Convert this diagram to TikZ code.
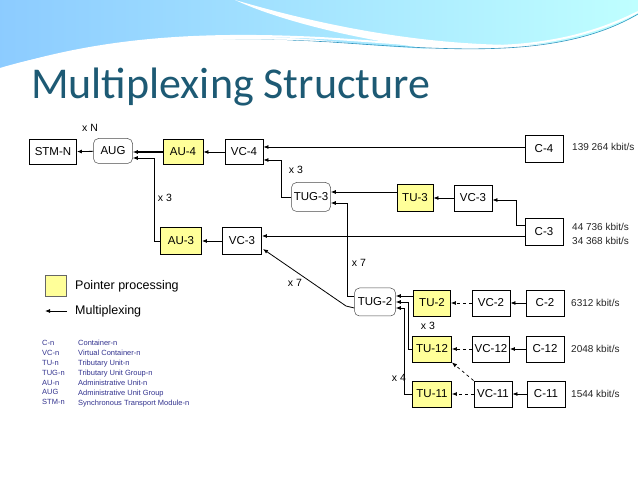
\documentclass[tikz,border=0pt]{standalone}
\usepackage{fontspec}
\setmainfont{Liberation Sans}
\newfontfamily\titlefont{Carlito}
\usetikzlibrary{arrows.meta}
\definecolor{ppy}{HTML}{FFFF99}
\definecolor{ttl}{HTML}{1D5A74}
\definecolor{abb}{HTML}{33338F}
\begin{document}
\begin{tikzpicture}[x=1pt,y=-1pt,
 box/.style={draw,line width=0.9pt,minimum height=25pt,inner sep=1pt,font=\fontsize{11.5}{11.5}\selectfont},
 rbox/.style={box,rounded corners=5pt,line width=0.5pt,draw=black!70},
 ybox/.style={box,fill=ppy},
 arr/.style={line width=0.8pt,-{Latex[length=5pt,width=4pt]}},
 darr/.style={arr,dashed,line width=0.7pt},
 lbl/.style={font=\fontsize{10.5}{10.5}\selectfont,inner sep=0pt},
 rate/.style={font=\fontsize{10}{10}\selectfont,inner sep=0pt,anchor=west,text=black!85}]
\useasboundingbox (0,0) rectangle (638,478);
\fill[white] (0,0) rectangle (638,478);
% header waves
\shade[left color=cyan!55!blue!45,right color=cyan!25] (0,0) -- (638,0) -- (638,22) .. controls (560,60) and (430,52) .. (320,40) .. controls (200,30) and (80,40) .. (0,72) -- cycle;
\fill[white] (235,0) .. controls (320,25) and (420,45) .. (520,45) .. controls (570,45) and (610,30) .. (638,15) -- (638,25) .. controls (600,45) and (560,55) .. (500,55) .. controls (420,52) and (300,30) .. (235,0);
\draw[white,line width=2pt] (0,70) .. controls (100,38) and (200,32) .. (320,38) .. controls (440,45) and (540,62) .. (638,12);
\draw[cyan!50!teal,line width=0.6pt] (0,72) .. controls (100,42) and (220,36) .. (330,42) .. controls (450,50) and (560,60) .. (638,14);
\fill[white] (0,68) .. controls (80,44) and (200,34) .. (320,42) .. controls (450,52) and (560,62) .. (638,20) -- (638,110) -- (0,110) -- cycle;
\node[anchor=base west,inner sep=0pt,text=ttl,font=\titlefont\fontsize{44}{44}\selectfont] (title) at (31,99) {Multiplexing Structure};
% nodes
\node[box,minimum width=47pt] (stm) at (53,152) {STM-N};
\node[rbox,minimum width=39pt] (aug) at (113,151) {AUG};
\node[ybox,minimum width=40pt] (au4) at (183,152) {AU-4};
\node[box,minimum width=38pt] (vc4) at (244,152) {VC-4};
\node[box,minimum width=38pt,minimum height=27pt] (c4) at (544,149) {C-4};
\node[rbox,minimum width=39pt,minimum height=29pt] (tug3) at (311,197) {TUG-3};
\node[ybox,minimum width=36pt,minimum height=27pt] (tu3) at (415,198) {TU-3};
\node[box,minimum width=38pt,minimum height=26pt] (vc3a) at (473,198) {VC-3};
\node[box,minimum width=38pt,minimum height=27pt] (c3) at (544,232) {C-3};
\node[ybox,minimum width=41pt,minimum height=27pt] (au3) at (181,241) {AU-3};
\node[box,minimum width=39pt,minimum height=27pt] (vc3b) at (242,241) {VC-3};
\node[rbox,minimum width=41pt,minimum height=28pt] (tug2) at (375,302) {TUG-2};
\node[ybox,minimum width=37pt,minimum height=26pt] (tu2) at (432,303) {TU-2};
\node[box,minimum width=38pt,minimum height=26pt] (vc2) at (491,303) {VC-2};
\node[box,minimum width=38pt,minimum height=26pt] (c2) at (545,303) {C-2};
\node[ybox,minimum width=39pt,minimum height=26pt] (tu12) at (432,349) {TU-12};
\node[box,minimum width=37pt,minimum height=26pt] (vc12) at (491,349) {VC-12};
\node[box,minimum width=38pt,minimum height=26pt] (c12) at (545,349) {C-12};
\node[ybox,minimum width=39pt,minimum height=26pt] (tu11) at (432,394) {TU-11};
\node[box,minimum width=38pt,minimum height=26pt] (vc11) at (493,394) {VC-11};
\node[box,minimum width=38pt,minimum height=26pt] (c11) at (546,394) {C-11};
% rates
\node[rate] (r4) at (572,147) {139 264 kbit/s};
\node[rate] (r3a) at (572,227) {44 736 kbit/s};
\node[rate] (r3b) at (572,241) {34 368 kbit/s};
\node[rate] (r2) at (571,303) {6312 kbit/s};
\node[rate] (r12) at (571,349) {2048 kbit/s};
\node[rate] (r11) at (571,394) {1544 kbit/s};
% labels
\node[lbl] (xn) at (90,128) {x N};
\node[lbl] (x3a) at (165,198) {x 3};
\node[lbl] (x3b) at (296,170) {x 3};
\node[lbl] (x7a) at (359,263) {x 7};
\node[lbl] (x7b) at (295,283) {x 7};
\node[lbl] (x3c) at (428,326) {x 3};
\node[lbl] (x4) at (399,378) {x 4};
% connectors
\draw[arr] (aug) -- (stm);
\draw[arr,line width=1.2pt] (au4) -- (aug.east|-au4);
\draw[arr] (au3.west) -| (154,158) -- (aug.east|-0,158);
\draw[arr] (vc4) -- (au4);
\draw[arr] (c4.west|-0,147) -- (vc4.east|-0,147);
\draw[arr] (tug3.west) -| (281,160) -- (vc4.east|-0,160);
\draw[arr] (tu3.west|-0,192) -- (tug3.east|-0,192);
\draw[arr] (vc3a) -- (tu3);
\draw[arr] (c3.west|-0,225) -| (516,200) -- (vc3a.east|-0,200);
\draw[arr] (c3.west|-0,236) -- (vc3b.east|-0,236);
\draw[arr] (vc3b) -- (au3);
\draw[arr] (tug2.west|-0,296) -| (347,203) -- (tug3.east|-0,203);
\draw[arr] (tug2.west|-0,308) -- (346,306) -- (263,249);
\draw[arr] (tu2.west|-0,296) -- (tug2.east|-0,296);
\draw[arr] (tu12.west) -| (408,302) -- (tug2.east|-0,302);
\draw[arr] (tu11.west) -| (404,308) -- (tug2.east|-0,308);
\draw[darr] (vc2) -- (tu2);
\draw[arr] (c2) -- (vc2);
\draw[darr] (vc12) -- (tu12);
\draw[arr] (c12) -- (vc12);
\draw[darr] (vc11) -- (tu11);
\draw[arr] (c11) -- (vc11);
\draw[darr] (vc11.north west) -- (tu12.south east);
% legend
\node[draw=black!60,fill=ppy,minimum size=21pt,inner sep=0pt] (lg) at (56,286) {};
\node[anchor=west,inner sep=0pt,font=\fontsize{12.5}{12.5}\selectfont] (lgt) at (75,286) {Pointer processing};
\coordinate (la) at (67,311);
\coordinate (lb) at (45,311);
\draw[arr] (la) -- (lb);
\node[anchor=west,inner sep=0pt,font=\fontsize{12.5}{12.5}\selectfont] (lmt) at (75,311) {Multiplexing};
\node[anchor=north west,inner sep=0pt,text=abb,font=\fontsize{7.5}{9.9}\selectfont,align=left] (ab1) at (42,340) {C-n\\VC-n\\TU-n\\TUG-n\\AU-n\\AUG\\STM-n};
\node[anchor=north west,inner sep=0pt,text=abb,font=\fontsize{7.5}{9.9}\selectfont,align=left] (ab2) at (78,340) {Container-n\\Virtual Container-n\\Tributary Unit-n\\Tributary Unit Group-n\\Administrative Unit-n\\Administrative Unit Group\\Synchronous Transport Module-n};
\end{tikzpicture}
\end{document}
